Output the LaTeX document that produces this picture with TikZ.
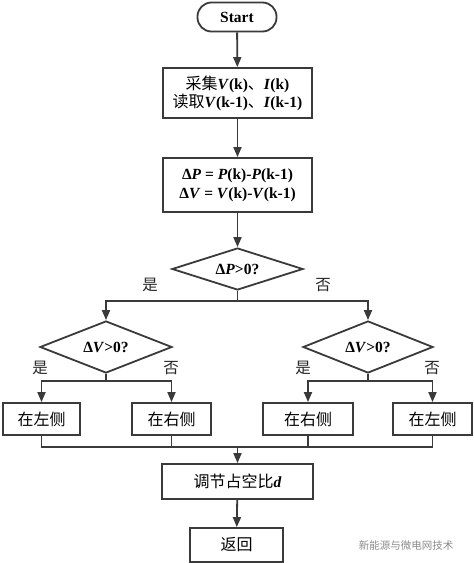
\documentclass[tikz,border=0pt]{standalone}
\usepackage{fontspec}
\setmainfont{Liberation Serif}
\newfontfamily\cjk{Noto Sans CJK SC}
\usetikzlibrary{shapes.geometric,arrows.meta}
\definecolor{ln}{HTML}{3A3A3A}
\tikzset{
  base/.style={draw=ln, line width=1.8pt, inner sep=0pt, align=center, font=\fontsize{15.5}{18}\selectfont},
  boxnode/.style={base, rectangle},
  cjkbox/.style={base, rectangle, font=\cjk\fontsize{16}{18}\selectfont},
  termnode/.style={base, rectangle, rounded corners=14pt},
  decnode/.style={base, diamond, aspect=3},
  conn/.style={draw=ln, line width=1.8pt},
  arr/.style={conn, -{Triangle[length=10pt,width=8pt]}},
  lab/.style={font=\cjk\fontsize{15.5}{17}\selectfont, text=black!85}
}
\newcommand{\bi}[1]{\textbf{\textit{#1}}}
\newcommand{\zh}[1]{{\cjk\fontsize{16}{18}\selectfont #1}}
\begin{document}
\begin{tikzpicture}[x=1pt,y=-1pt]
\useasboundingbox (0,0) rectangle (474,563);
\fill[white] (0,0) rectangle (474,563);

\node[termnode, minimum width=79pt, minimum height=29pt] (start) at (237,17) {\textbf{Start}};
\node[boxnode, minimum width=149pt, minimum height=50pt] (b1) at (237.5,93)
  {\zh{采集}\bi{V}\textbf{(k)}\zh{、}\bi{I}\textbf{(k)}\\[0pt]\zh{读取}\bi{V}\textbf{(k-1)}\zh{、}\bi{I}\textbf{(k-1)}};
\node[boxnode, minimum width=149pt, minimum height=54pt] (b2) at (237.5,185)
  {\textbf{Δ}\bi{P}\textbf{ = }\bi{P}\textbf{(k)-}\bi{P}\textbf{(k-1)}\\[1pt]\textbf{Δ}\bi{V}\textbf{ = }\bi{V}\textbf{(k)-}\bi{V}\textbf{(k-1)}};
\node[decnode, minimum width=131pt, minimum height=42pt] (d1) at (237.5,269) {\textbf{Δ}\bi{P}\textbf{>0?}};
\node[decnode, minimum width=132pt, minimum height=52pt] (dl) at (106,347) {\textbf{Δ}\bi{V}\textbf{>0?}};
\node[decnode, minimum width=130pt, minimum height=52pt] (dr) at (368,347) {\textbf{Δ}\bi{V}\textbf{>0?}};

\node[cjkbox, minimum width=77pt, minimum height=32pt] (l1) at (41.5,419) {在左侧};
\node[cjkbox, minimum width=79pt, minimum height=32pt] (l2) at (171.5,419) {在右侧};
\node[cjkbox, minimum width=90pt, minimum height=32pt] (r1) at (308,419) {在右侧};
\node[cjkbox, minimum width=79pt, minimum height=32pt] (r2) at (432.5,419) {在左侧};

\node[boxnode, minimum width=151pt, minimum height=35pt] (b3) at (237.5,481.5) {\zh{调节占空比}\bi{d}};
\node[cjkbox, minimum width=93pt, minimum height=34pt] (b4) at (236.5,545) {返回};

\coordinate (j1) at (237.5,301);
\coordinate (jl) at (106,381);
\coordinate (jr) at (368,381);
\coordinate (ml) at (41.5,447);
\coordinate (mr) at (432.5,447);
\coordinate (mc) at (237.5,447);

\draw[arr] (start) -- (b1);
\draw[arr] (b1) -- (b2);
\draw[arr] (b2) -- (d1);
\draw[conn] (d1.south) -- (j1);
\draw[arr] (j1) -| (dl.north);
\draw[arr] (j1) -| (dr.north);
\draw[conn] (dl.south) -- (jl);
\draw[arr] (jl) -| (l1.north);
\draw[arr] (jl) -| (l2.north);
\draw[conn] (dr.south) -- (jr);
\draw[arr] (jr) -| (r1.north);
\draw[arr] (jr) -| (r2.north);
\draw[conn] (l1.south) -- (ml) -- (mr) -- (r2.south);
\draw[conn] (l2.south) -- (l2.south |- ml);
\draw[conn] (r1.south) -- (r1.south |- ml);
\draw[arr] (mc) -- (b3);
\draw[arr] (b3) -- (b4);

\node[lab] (y1) at (150,285) {是};
\node[lab] (n1) at (323,285) {否};
\node[lab] (y2) at (40,368) {是};
\node[lab] (n2) at (171,368) {否};
\node[lab] (y3) at (303,368) {是};
\node[lab] (n3) at (432,368) {否};

\node[font=\cjk\fontsize{10.5}{12}\selectfont, text=black!45] (wm) at (406,545) {新能源与微电网技术};
\end{tikzpicture}
\end{document}
